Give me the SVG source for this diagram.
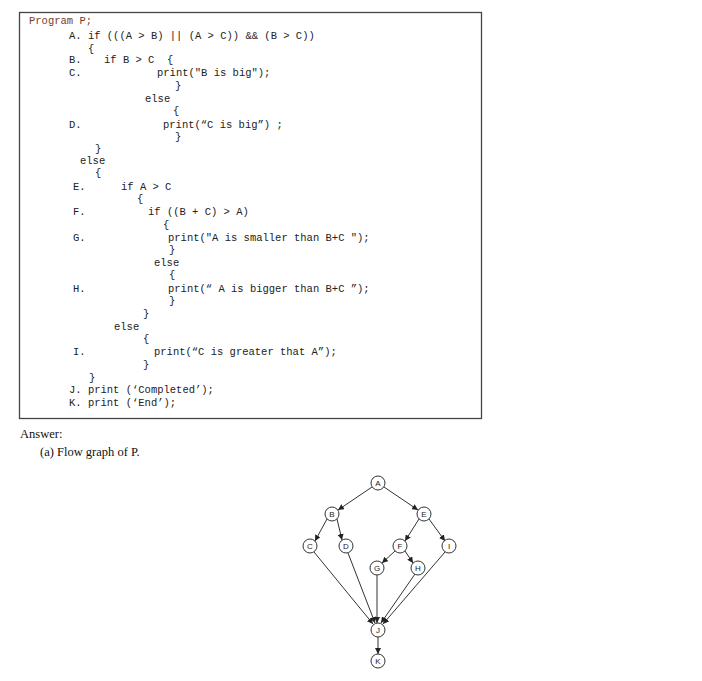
<svg xmlns="http://www.w3.org/2000/svg" width="702" height="681" viewBox="0 0 702 681">
<style>
.c{font-family:"Liberation Mono",monospace;font-size:10.5px;fill:#222;white-space:pre}
.t{font-family:"Liberation Serif",serif;font-size:12.5px;fill:#111}
.n circle{fill:#fff;stroke:#333;stroke-width:1}
.n text{font-family:"Liberation Sans",sans-serif;font-size:8px;text-anchor:middle;fill:#222}
#edges line{stroke:#333;stroke-width:1;marker-end:url(#ah)}
</style>
<defs><marker id="ah" viewBox="0 0 10 10" refX="10" refY="5" markerWidth="6" markerHeight="6" orient="auto"><path d="M0,0L10,5L0,10z" fill="#222"/></marker></defs>
<rect x="19.5" y="12.5" width="462" height="406" fill="#fff" stroke="#444" stroke-width="1.3"/>
<g id="code">
<text class="c" x="29" y="24" fill="#7a3b2e" style="fill:#7a3b2e">Program P;</text>
<text class="c" x="69" y="39">A. if (((A &gt; B) || (A &gt; C)) &amp;&amp; (B &gt; C))</text>
<text class="c" x="88" y="52">{</text>
<text class="c" x="69" y="63">B.</text><text class="c" x="104" y="63">if B &gt; C  {</text>
<text class="c" x="69" y="76">C.</text><text class="c" x="157" y="76">print("B is big");</text>
<text class="c" x="175" y="89">}</text>
<text class="c" x="145" y="102">else</text>
<text class="c" x="173" y="114">{</text>
<text class="c" x="69" y="128">D.</text><text class="c" x="163" y="128">print(“C is big”) ;</text>
<text class="c" x="175" y="140">}</text>
<text class="c" x="95" y="152">}</text>
<text class="c" x="80" y="164">else</text>
<text class="c" x="95" y="176">{</text>
<text class="c" x="73" y="190">E.</text><text class="c" x="121" y="190">if A &gt; C</text>
<text class="c" x="137" y="202">{</text>
<text class="c" x="73" y="215">F.</text><text class="c" x="148" y="215">if ((B + C) &gt; A)</text>
<text class="c" x="163" y="228">{</text>
<text class="c" x="73" y="241">G.</text><text class="c" x="168" y="241">print("A is smaller than B+C ");</text>
<text class="c" x="169" y="253">}</text>
<text class="c" x="154" y="266">else</text>
<text class="c" x="169" y="278">{</text>
<text class="c" x="73" y="292">H.</text><text class="c" x="168" y="292">print(“ A is bigger than B+C ”);</text>
<text class="c" x="169" y="304">}</text>
<text class="c" x="143" y="317">}</text>
<text class="c" x="114" y="330">else</text>
<text class="c" x="143" y="342">{</text>
<text class="c" x="73" y="355">I.</text><text class="c" x="154" y="355">print(“C is greater that A”);</text>
<text class="c" x="143" y="368">}</text>
<text class="c" x="89" y="381">}</text>
<text class="c" x="69" y="393">J. print (‘Completed’);</text>
<text class="c" x="69" y="406">K. print (‘End’);</text>
</g>
<text class="t" x="20" y="438">Answer:</text>
<text class="t" x="40" y="456">(a) Flow graph of P.</text>
<g id="edges">
<line x1="372" y1="487" x2="338" y2="510"/>
<line x1="384" y1="487" x2="418" y2="510"/>
<line x1="327" y1="519" x2="315" y2="541"/>
<line x1="337" y1="519" x2="342" y2="540"/>
<line x1="419" y1="519" x2="405" y2="541"/>
<line x1="429" y1="519" x2="445" y2="541"/>
<line x1="395" y1="551" x2="382" y2="563"/>
<line x1="405" y1="551" x2="413" y2="563"/>
<line x1="314" y1="552" x2="373" y2="624"/>
<line x1="348" y1="553" x2="375" y2="623"/>
<line x1="377" y1="575" x2="377" y2="623"/>
<line x1="415" y1="574" x2="381" y2="623"/>
<line x1="445" y1="552" x2="383" y2="624"/>
<line x1="378" y1="637" x2="378" y2="654"/>
</g>
<g id="A" class="n"><circle cx="378" cy="483" r="7"/><text x="378" y="486">A</text></g>
<g id="B" class="n"><circle cx="332" cy="514" r="7"/><text x="332" y="517">B</text></g>
<g id="E" class="n"><circle cx="424" cy="514" r="7"/><text x="424" y="517">E</text></g>
<g id="C" class="n"><circle cx="310" cy="546" r="7"/><text x="310" y="549">C</text></g>
<g id="D" class="n"><circle cx="346" cy="546" r="7"/><text x="346" y="549">D</text></g>
<g id="F" class="n"><circle cx="400" cy="546" r="7"/><text x="400" y="549">F</text></g>
<g id="I" class="n"><circle cx="449" cy="546" r="7"/><text x="449" y="549">I</text></g>
<g id="G" class="n"><circle cx="377" cy="568" r="7"/><text x="377" y="571">G</text></g>
<g id="H" class="n"><circle cx="418" cy="568" r="7"/><text x="418" y="571">H</text></g>
<g id="J" class="n"><circle cx="378" cy="630" r="7"/><text x="378" y="633">J</text></g>
<g id="K" class="n"><circle cx="378" cy="661" r="7"/><text x="378" y="664">K</text></g>
</svg>
